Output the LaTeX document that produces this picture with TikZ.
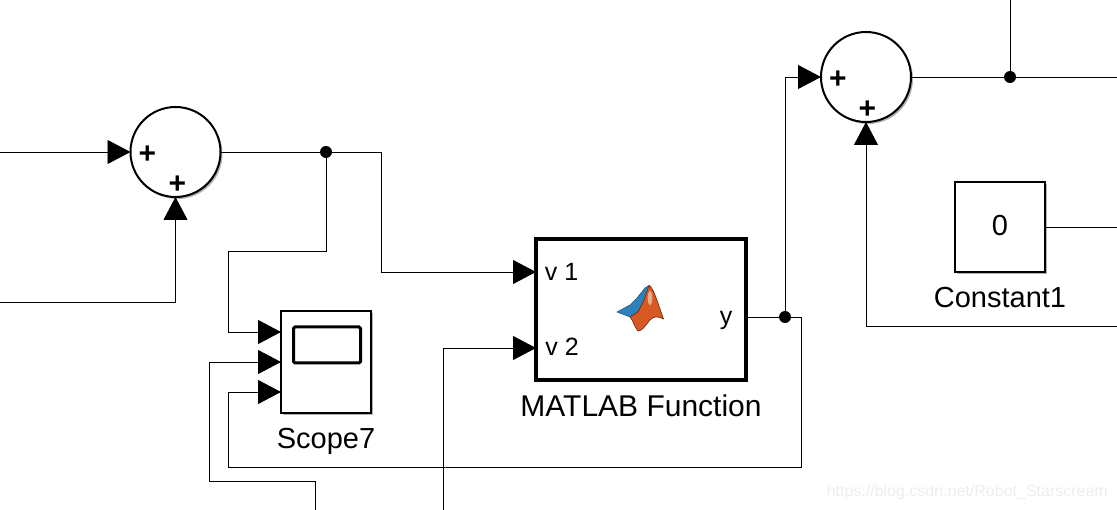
\documentclass[tikz,border=0pt]{standalone}
\usepackage{fontspec}
\setmainfont{Liberation Sans}
\usetikzlibrary{arrows.meta,shadows}

\definecolor{logoblue}{RGB}{45,130,190}
\definecolor{logoorange}{RGB}{216,90,35}
\definecolor{logodark}{RGB}{120,45,15}

\tikzset{
    block/.style={draw, fill=white, line width=1.6pt, inner sep=0pt, outer sep=0pt,
        drop shadow={shadow xshift=2pt, shadow yshift=-2pt, opacity=.3, fill=black}},
    sum/.style={block, circle, line width=2pt, minimum size=90pt},
    wire/.style={line width=.9pt},
    sig/.style={wire, -{Triangle[length=23pt,width=24pt]}},
    dot/.style={circle, fill=black, inner sep=0pt, minimum size=12pt},
    lbl/.style={font=\fontsize{29}{32}\selectfont, inner sep=0pt},
    port/.style={font=\fontsize{25}{28}\selectfont, inner sep=0pt},
    plus/.style={font=\bfseries\fontsize{30}{32}\selectfont, inner sep=0pt},
}

\begin{document}
\begin{tikzpicture}[x=1pt, y=-1pt]
    \useasboundingbox (0,0) rectangle (1117,510);

    % blocks
    \node[sum] (sumA) at (175.5,152) {};
    \node[sum] (sumB) at (866,77) {};
    \node[block, minimum width=90pt, minimum height=102pt] (scope) at (326,362) {};
    \node[block, line width=3.4pt, minimum width=210pt, minimum height=141pt] (func) at (641,309.5) {};
    \node[block, minimum width=90pt, minimum height=90pt] (const) at (1000,227) {};
    \node[draw, rounded corners=1.5pt, line width=3pt, minimum width=67pt, minimum height=36pt, inner sep=0pt] (screen) at (327,345) {};

    % texts
    \node[plus] (plusA1) at (147.5,154.5) {+};
    \node[plus] (plusA2) at (177.5,184.5) {+};
    \node[plus] (plusB1) at (838,79.5) {+};
    \node[plus] (plusB2) at (867.5,109.5) {+};
    \node[port] (v1) at (561.5,272) {v 1};
    \node[port] (v2) at (562,347) {v 2};
    \node[port] (y) at (726,320) {y};
    \node[lbl] (zero) at (1000,226) {0};
    \node[lbl, font=\fontsize{30}{32}\selectfont] (funcname) at (641,406) {MATLAB Function};
    \node[lbl] (scopename) at (326,441) {Scope7};
    \node[lbl] (constname) at (1000,298) {Constant1};
    \node[font=\fontsize{16}{18}\selectfont, text=black!7, inner sep=0pt, anchor=east] (mark) at (1108,492) {https://blog.csdn.net/Robot\_Starscream};

    % logo
    \fill[logoblue, draw=logoblue!70!black, line width=.6pt, line join=round] (617,312) -- (630,305) -- (637,298) -- (645,288) -- (649,285.5) -- (652,296) -- (638,312) -- (630,317) -- cycle;
    \fill[logoorange, draw=logodark, line width=.7pt, line join=round] (630,317) -- (638,312) -- (644,300) -- (649,285.5) .. controls (653,287) and (656,298) .. (663.5,319) .. controls (657,316) and (654,316) .. (650,320) .. controls (645,326) and (642,331) .. (638,331) .. controls (635,328) and (633,320) .. (630,317) -- cycle;
    \fill[white, opacity=.5] (650,298) ellipse (2.3pt and 7pt);

    % free ends
    \coordinate (inA) at (0,152);
    \coordinate (inB) at (0,302);
    \coordinate (inC) at (315,510);
    \coordinate (inD) at (443,510);
    \coordinate (inE) at (1010,0);
    \coordinate (outA) at (1117,77);
    \coordinate (outB) at (1117,227);
    \coordinate (inF) at (1117,326);

    % ports
    \coordinate (scope1) at (scope.west |- 0,332);
    \coordinate (scope2) at (scope.west |- 0,362);
    \coordinate (scope3) at (scope.west |- 0,392);
    \coordinate (func1) at (func.west |- 0,272);
    \coordinate (func2) at (func.west |- 0,348);
    \coordinate (funcout) at (func.east |- 0,317);

    % junctions
    \node[dot] (jA) at (326,152) {};
    \node[dot] (jB) at (785,317) {};
    \node[dot] (jC) at (1010,77) {};

    % wires
    \draw[sig] (inA) -- (sumA.west);
    \draw[sig] (inB) -| (sumA.south);
    \draw[wire] (sumA.east) -- (jA);
    \draw[sig] (jA) -- (381,152) -- (381,272) -- (func1);
    \draw[sig] (jA) -- (326,251) -- (228,251) -- (228,332) -- (scope1);
    \draw[sig] (inC) -- (315,481) -- (209,481) -- (209,362) -- (scope2);
    \draw[sig] (inD) |- (func2);
    \draw[wire] (funcout) -- (jB);
    \draw[sig] (jB) |- (sumB.west);
    \draw[sig] (jB) -- (801,317) -- (801,467) -- (228,467) -- (228,392) -- (scope3);
    \draw[wire] (sumB.east) -- (outA);
    \draw[wire] (inE) -- (jC);
    \draw[wire] (const.east |- outB) -- (outB);
    \draw[sig] (inF) -| (sumB.south);
\end{tikzpicture}
\end{document}
